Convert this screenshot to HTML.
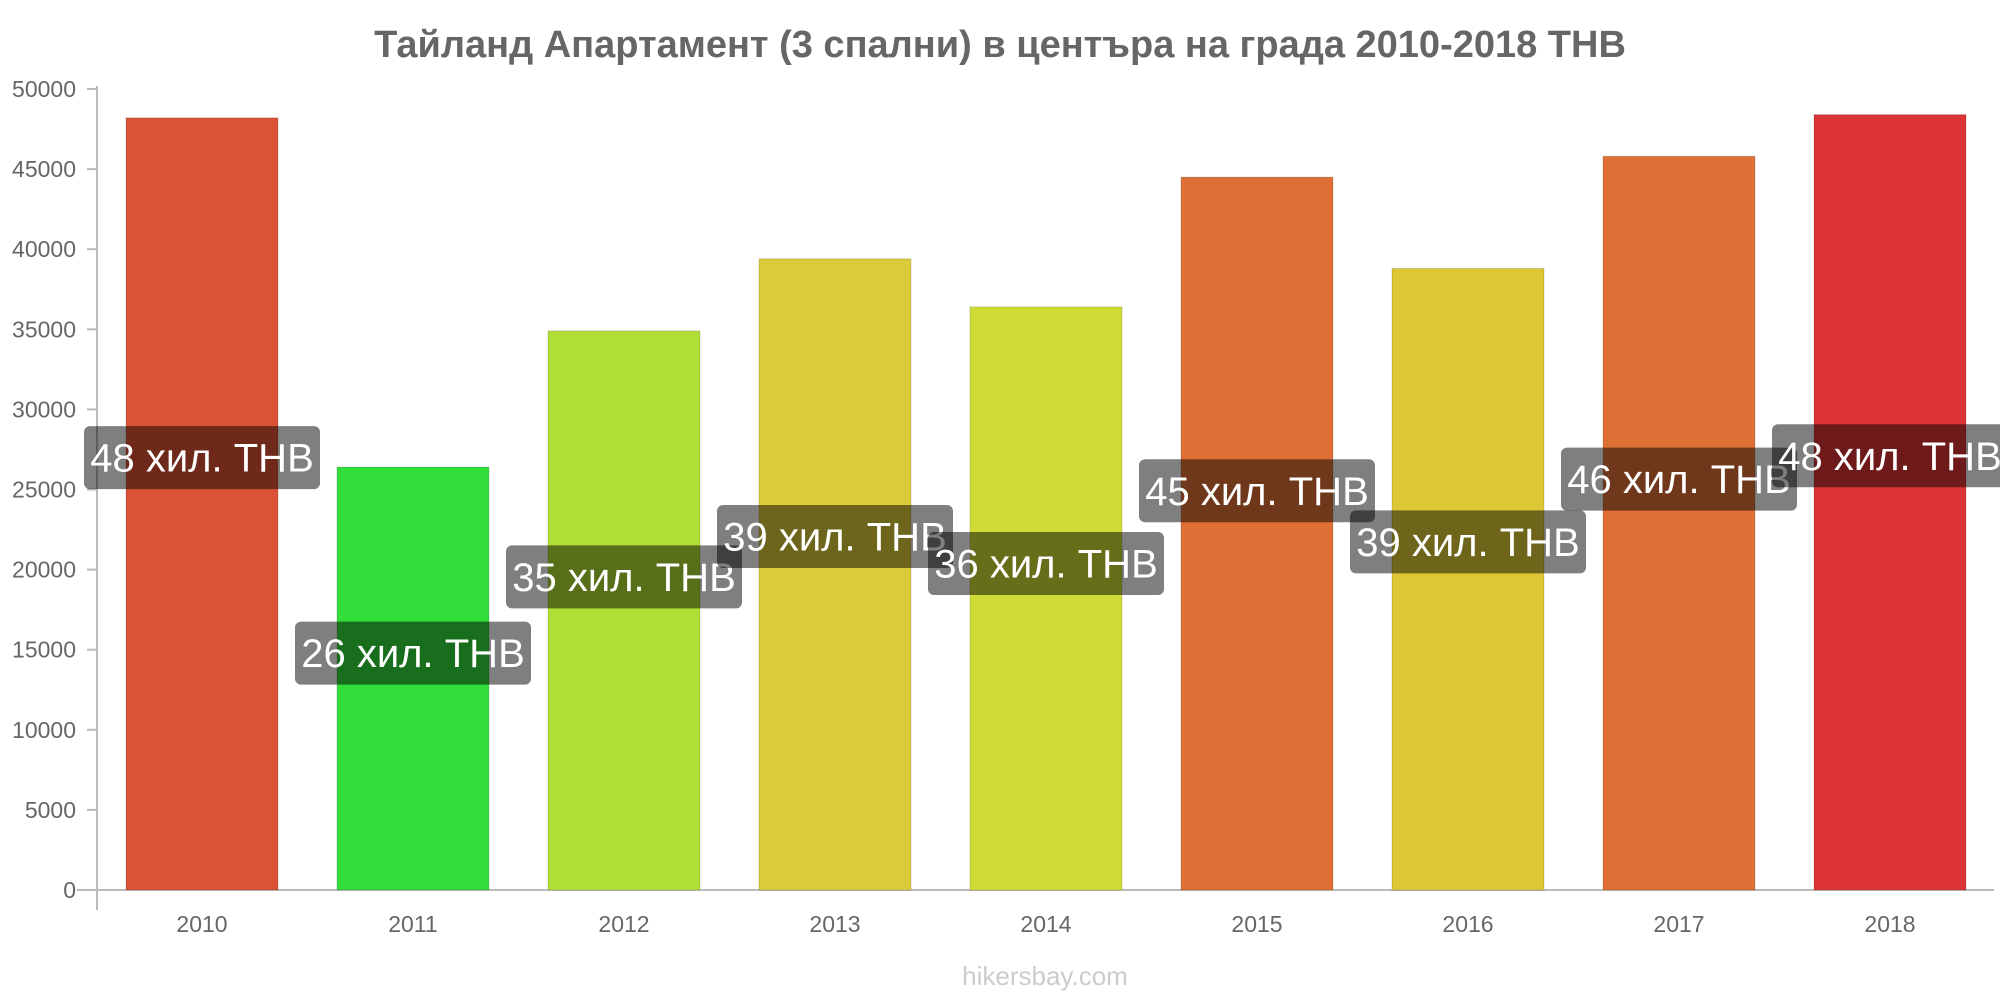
<!DOCTYPE html>
<html><head><meta charset="utf-8"><style>
body{margin:0;background:#fff;}
svg text{font-family:"Liberation Sans",sans-serif;}
</style></head><body>
<svg id="c" width="2000" height="1000" xmlns="http://www.w3.org/2000/svg">
<text x="1000" y="57" text-anchor="middle" font-size="38" font-weight="bold" fill="#666">Тайланд Апартамент (3 спални) в центъра на града 2010-2018 THB</text>
<g id="axes"></g><g id="bars"></g><g id="labels"></g>
<text x="1045" y="985" text-anchor="middle" font-size="26" fill="#ccc">hikersbay.com</text>
</svg>
<script>
const categories=["2010","2011","2012","2013","2014","2015","2016","2017","2018"];
const values=[48200,26400,34900,39400,36400,44500,38800,45800,48400];
const valueLabels=["48 хил. THB","26 хил. THB","35 хил. THB","39 хил. THB","36 хил. THB","45 хил. THB","39 хил. THB","46 хил. THB","48 хил. THB"];
const colors=["#dc5236","#33dd3a","#b0de35","#dccb38","#cfdc35","#de7035","#dcc834","#de7035","#dc3434"];
const yTicks=[0,5000,10000,15000,20000,25000,30000,35000,40000,45000,50000];
const NS="http://www.w3.org/2000/svg";
const y0=890,y1=89,yMax=50000,axX=97,step=211,firstC=202,bw=152;
const y=v=>y0-v/yMax*(y0-y1);
const x=i=>firstC+i*step;
function mk(t,a,p,txt){const e=document.createElementNS(NS,t);for(const k in a)e.setAttribute(k,a[k]);if(txt!==undefined)e.textContent=txt;p.appendChild(e);return e;}
const ax=document.getElementById('axes'),bg=document.getElementById('bars'),lg=document.getElementById('labels');
let e=mk('line',{x1:axX,y1:y1-3,x2:axX,y2:y0+20,stroke:'#bbb','stroke-width':2},ax);


e=mk('line',{x1:axX-20,y1:y0,x2:1994,y2:y0,stroke:'#bbb','stroke-width':2},ax);


yTicks.forEach(t=>{
 const l=mk('line',{x1:axX-10,y1:y(t),x2:axX,y2:y(t),stroke:'#bbb','stroke-width':2},ax);
 
 
 const tx=mk('text',{x:76,y:y(t)+8,'text-anchor':'end','font-size':23,fill:'#666'},ax,String(t));
 
 
});
categories.forEach((c,i)=>{
 const r=mk('rect',{x:x(i)-bw/2,y:y(values[i]),width:bw,height:y0-y(values[i]),fill:colors[i],stroke:'rgba(0,0,0,0.15)','stroke-width':1},bg);
 
 
 const t=mk('text',{x:x(i),y:y0+42,'text-anchor':'middle','font-size':23,fill:'#666'},ax,c);
 
 
 const cy=y(values[i]*0.56);
 const w=236,h=63;
 const b=mk('rect',{x:x(i)-w/2,y:cy-h/2,width:w,height:h,rx:6,fill:'rgba(0,0,0,0.5)'},lg);
 
 
 const vt=mk('text',{x:x(i),y:cy+14,'text-anchor':'middle','font-size':40,fill:'#fff'},lg,valueLabels[i]);
 
 
});
</script>
</body></html>
